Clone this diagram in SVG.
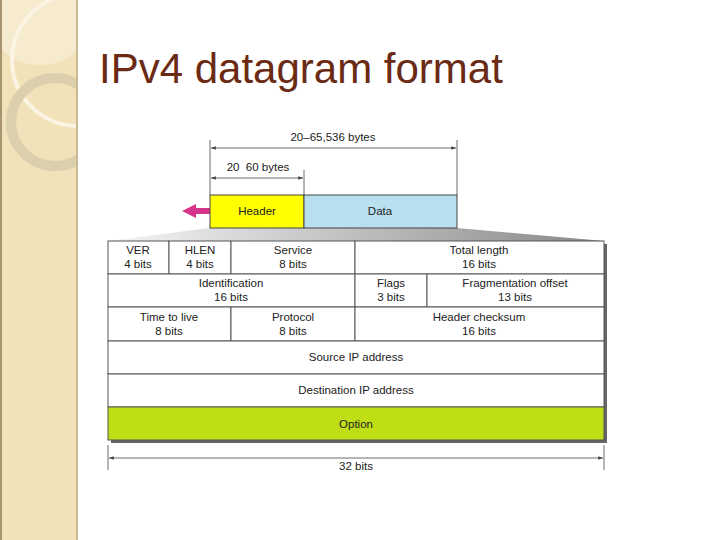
<svg xmlns="http://www.w3.org/2000/svg" width="720" height="540" viewBox="0 0 720 540">
<defs>
<style>
.t{font-family:"Liberation Sans",Arial,sans-serif;font-size:11.5px;fill:#222;text-anchor:middle}
.c{fill:#fff;stroke:#555;stroke-width:1}
.d{stroke:#444;stroke-width:0.8;fill:none}
</style>
<marker id="a" viewBox="0 0 8 6" refX="8" refY="3" markerWidth="6" markerHeight="5" orient="auto-start-reverse"><path d="M0,0L8,3L0,6z" fill="#444"/></marker>
<linearGradient id="g" x1="0" y1="0" x2="1" y2="0"><stop offset="0" stop-color="#f5f5f5"/><stop offset="1" stop-color="#888"/></linearGradient>
<clipPath id="sb"><rect x="0" y="0" width="78" height="540"/></clipPath>
</defs>
<rect width="720" height="540" fill="#fff"/>
<g id="sidebar" clip-path="url(#sb)">
<rect x="0" y="0" width="78" height="540" fill="#f2e2ba"/>
<circle cx="40" cy="10" r="55" fill="#f8efd9" opacity="0.7"/>
<circle cx="78" cy="60" r="66" fill="none" stroke="#fbf4e2" stroke-width="4"/>
<circle cx="55" cy="122" r="44" fill="none" stroke="#dccfae" stroke-width="10"/>
<rect x="76" y="0" width="3" height="540" fill="#c9b995"/>
<rect x="0" y="0" width="2" height="540" fill="#a89470"/>
</g>
<text x="99" y="83" font-family="Liberation Sans,Arial,sans-serif" font-size="42" fill="#6b2a14">IPv4 datagram format</text>
<g id="connectors">
<line class="d" x1="210" y1="140" x2="210" y2="195"/>
<line class="d" x1="457" y1="140" x2="457" y2="195"/>
<line class="d" x1="304" y1="170" x2="304" y2="195"/>
<line class="d" x1="211" y1="148" x2="456" y2="148" marker-start="url(#a)" marker-end="url(#a)"/>
<line class="d" x1="211" y1="178" x2="303" y2="178" marker-start="url(#a)" marker-end="url(#a)"/>
<text class="t" x="333" y="141">20–65,536 bytes</text>
<text class="t" x="258" y="171">20&#160; 60 bytes</text>
<line class="d" x1="108" y1="445" x2="108" y2="470"/>
<line class="d" x1="604" y1="445" x2="604" y2="470"/>
<line class="d" x1="109" y1="458" x2="603" y2="458" marker-start="url(#a)" marker-end="url(#a)"/>
<text class="t" x="356" y="470">32 bits</text>
<polygon points="210,208 196,208 196,204 182,211 196,218 196,214 210,214" fill="#d6338a"/>
<polygon points="210,228 457,228 604,241 108,241" fill="url(#g)"/>
</g>
<g id="header"><rect x="210" y="195" width="94" height="33" fill="#ffff00" stroke="#444"/><text class="t" x="257" y="215">Header</text></g>
<g id="data"><rect x="304" y="195" width="153" height="33" fill="#b9e0ee" stroke="#444"/><text class="t" x="380" y="215">Data</text></g>
<g id="table">
<rect x="111" y="244" width="496" height="199" fill="#666"/>
<rect class="c" x="108" y="241" width="61" height="33"/><text class="t" x="138" y="254">VER</text><text class="t" x="138" y="268">4 bits</text>
<rect class="c" x="169" y="241" width="62" height="33"/><text class="t" x="200" y="254">HLEN</text><text class="t" x="200" y="268">4 bits</text>
<rect class="c" x="231" y="241" width="124" height="33"/><text class="t" x="293" y="254">Service</text><text class="t" x="293" y="268">8 bits</text>
<rect class="c" x="355" y="241" width="249" height="33"/><text class="t" x="479" y="254">Total length</text><text class="t" x="479" y="268">16 bits</text>
<rect class="c" x="108" y="274" width="247" height="33"/><text class="t" x="231" y="287">Identification</text><text class="t" x="231" y="301">16 bits</text>
<rect class="c" x="355" y="274" width="72" height="33"/><text class="t" x="391" y="287">Flags</text><text class="t" x="391" y="301">3 bits</text>
<rect class="c" x="427" y="274" width="177" height="33"/><text class="t" x="515" y="287">Fragmentation offset</text><text class="t" x="515" y="301">13 bits</text>
<rect class="c" x="108" y="307" width="123" height="34"/><text class="t" x="169" y="321">Time to live</text><text class="t" x="169" y="335">8 bits</text>
<rect class="c" x="231" y="307" width="124" height="34"/><text class="t" x="293" y="321">Protocol</text><text class="t" x="293" y="335">8 bits</text>
<rect class="c" x="355" y="307" width="249" height="34"/><text class="t" x="479" y="321">Header checksum</text><text class="t" x="479" y="335">16 bits</text>
<rect class="c" x="108" y="341" width="496" height="33"/><text class="t" x="356" y="361">Source IP address</text>
<rect class="c" x="108" y="374" width="496" height="33"/><text class="t" x="356" y="394">Destination IP address</text>
<rect x="108" y="407" width="496" height="33" fill="#c0de16" stroke="#555"/><text class="t" x="356" y="428">Option</text>
</g>
</svg>
